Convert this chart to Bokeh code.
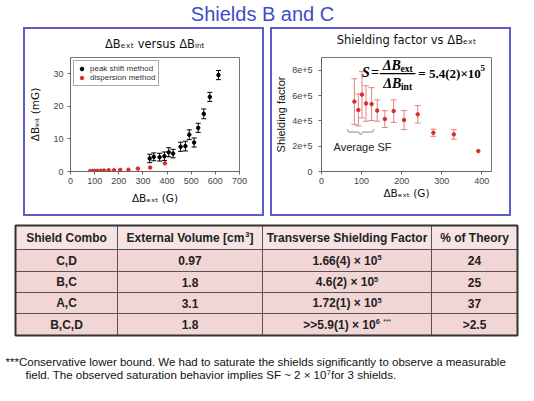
import math
from bokeh.plotting import figure
from bokeh.layouts import column, row
from bokeh.models import (Range1d, FixedTicker, Label, Whisker, LinearAxis,
                          TeeHead, ColumnDataSource, Legend, LegendItem)
from bokeh.embed import file_html
from bokeh.resources import INLINE

# ------------------------------------------------------------------ data
page_title = "Shields B and C"
left_title = "ΔBₑₓₜ versus ΔBᵢₙₜ"
left_xlabel = "ΔBₑₓₜ (G)"
left_ylabel = "ΔBᵢₙₜ (mG)"
right_title = "Shielding factor vs ΔBₑₓₜ"
right_xlabel = "ΔBₑₓₜ (G)"
right_ylabel = "Shielding factor"

peak_x   = [328, 345, 369, 389, 407, 425, 456, 476, 492, 512, 529, 552, 577, 613]
peak_y   = [4.0, 4.5, 4.4, 4.7, 5.9, 5.5, 7.6, 7.8, 11.3, 8.9, 13.4, 17.7, 22.9, 29.6]
peak_err = [1.3, 1.2, 1.2, 1.3, 1.4, 1.3, 1.4, 1.5, 1.5, 1.4, 1.4, 1.5, 1.4, 1.4]

disp_x = [82, 92, 101, 111, 125, 139, 158, 180, 206, 240, 279, 330, 391]
disp_y = [0.15, 0.19, 0.17, 0.21, 0.24, 0.29, 0.38, 0.38, 0.5, 0.53, 0.9, 1.2, 2.5]

sf_x   = [82, 92, 101, 111, 125, 139, 158, 180, 206, 240, 279, 330, 391]
sf_y   = [5.52e5, 4.86e5, 6.07e5, 5.37e5, 5.32e5, 4.81e5, 4.14e5, 4.77e5,
          4.06e5, 4.51e5, 3.06e5, 2.93e5, 1.61e5]
sf_err = [1.8e5, 1.26e5, 1.84e5, 1.4e5, 1.3e5, 0.84e5, 0.66e5, 0.89e5,
          0.75e5, 0.69e5, 0.28e5, 0.38e5, 0.0]

left_xticks  = [0, 100, 200, 300, 400, 500, 600, 700]
left_yticks  = [0, 10, 20, 30]
right_xticks = [0, 100, 200, 300, 400]
right_yticks = [0, 200000, 400000, 600000, 800000]
right_ytick_labels = ["0", "2e+5", "4e+5", "6e+5", "8e+5"]

legend_labels = ["peak shift method", "dispersion method"]

table_headers = ["Shield Combo", "External Volume [cm", "Transverse Shielding Factor", "% of Theory"]
combos      = ["C,D", "B,C", "A,C", "B,C,D"]
volumes     = ["0.97", "1.8", "3.1", "1.8"]
sf_mantissa = ["1.66(4) × 10", "4.6(2) × 10", "1.72(1) × 10", ">>5.9(1) × 10"]
sf_power    = ["5", "5", "5", "6"]
sf_note     = ["", "", "", "***"]
theory_pct  = ["24", "25", "37", ">2.5"]

footnote_1  = "***Conservative lower bound. We had to saturate the shields significantly to observe a measurable"
footnote_2a = "field. The observed saturation behavior implies SF ~ 2 × 10"
footnote_2b = "7"
footnote_2c = "  for 3 shields."

# ------------------------------------------------------------------ text metrics
def _tab(upper, lower, extra):
    t = {}
    for ch, w in zip("ABCDEFGHIJKLMNOPQRSTUVWXYZ", upper):
        t[ch] = w
    for ch, w in zip("abcdefghijklmnopqrstuvwxyz", lower):
        t[ch] = w
    for d in "0123456789":
        t[d] = 556
    t.update(extra)
    return t

ARIAL = _tab([667, 667, 722, 722, 667, 611, 778, 722, 278, 500, 667, 556, 833, 722, 778, 667, 778, 722, 667, 611, 722, 667, 944, 667, 667, 611],
             [556, 556, 500, 556, 556, 278, 556, 556, 222, 222, 500, 222, 833, 556, 556, 556, 556, 333, 500, 278, 556, 500, 722, 500, 500, 500],
             dict(zip(" ()*,.-/:;[]~%><=+×Δ", [278, 333, 333, 389, 278, 278, 333, 278, 278, 278, 278, 278, 584, 889, 584, 584, 584, 584, 584, 668])))
ARIAL_B = _tab([722, 722, 722, 722, 667, 611, 778, 722, 278, 556, 722, 611, 833, 722, 778, 667, 778, 722, 667, 611, 722, 667, 944, 667, 667, 611],
               [556, 611, 556, 611, 556, 333, 611, 611, 278, 278, 556, 278, 889, 611, 611, 611, 611, 389, 556, 333, 611, 556, 778, 556, 556, 500],
               dict(zip(" ()*,.-/:;[]~%><=+×Δ", [278, 333, 333, 389, 278, 278, 333, 278, 333, 333, 333, 333, 584, 889, 584, 584, 584, 584, 584, 668])))
TIMES_B = {"S": 556, "=": 570, "Δ": 612, "B": 667, "e": 444, "x": 500, "t": 333, "i": 278,
           "n": 556, ".": 250, "(": 333, ")": 333, "×": 570, " ": 250}
for _d in "0123456789":
    TIMES_B[_d] = 500


def tw(text, size, table):
    return sum(table.get(c, 556) for c in text) * size / 1000.0


class Mapper:
    """page pixel -> data coordinates of one figure"""
    def __init__(self, fx0, fx1, fy0, fy1, xr, yr):
        self.fx0, self.fx1, self.fy0, self.fy1 = fx0, fx1, fy0, fy1
        self.xr, self.yr = xr, yr

    def __call__(self, px, py):
        x = self.xr[0] + (px - self.fx0) / (self.fx1 - self.fx0) * (self.xr[1] - self.xr[0])
        y = self.yr[0] + (self.fy1 - py) / (self.fy1 - self.fy0) * (self.yr[1] - self.yr[0])
        return x, y


SANS = "Liberation Sans"
SERIF = "Liberation Serif"
SUBFONT = "DejaVu Sans"


def lab(p, m, px, py, text, size, color="#111111", font=SANS, style="normal",
        align="left", angle=0.0):
    """py is the wanted baseline; the label is anchored on the text's middle."""
    x, y = m(px, py - 0.35 * size)
    p.add_layout(Label(x=x, y=y, text=text, text_font=font, text_font_size=f"{size}px",
                       text_font_style=style, text_color=color, text_align=align,
                       text_baseline="alphabetic", angle=angle))


def rich(p, m, pieces, px, py, center=True, font=SANS, color="#111111", table=ARIAL):
    """pieces: (text, size, dy, style) laid out left to right"""
    total = sum(tw(t, s, table) for t, s, dy, st in pieces)
    x0 = px - total / 2.0 if center else px
    for t, s, dy, st in pieces:
        lab(p, m, x0, py + dy, t, s, color=color, font=font, style=st)
        x0 += tw(t, s, table)


def style_chart(p, xticks, yticks, ystandoff, title, title_standoff,
                xlabel, xlab_standoff, ylabel, ylab_standoff, ylab_font, ylab_size):
    p.xaxis.ticker = FixedTicker(ticks=xticks)
    p.yaxis.ticker = FixedTicker(ticks=yticks)
    for ax in p.xaxis + p.yaxis:
        ax.major_tick_out = 3
        ax.major_tick_in = 0
        ax.minor_tick_out = 0
        ax.minor_tick_in = 0
        ax.axis_line_color = "#666666"
        ax.major_tick_line_color = "#666666"
        ax.major_label_text_font = SANS
        ax.major_label_text_font_size = "9px"
        ax.major_label_text_color = "#444444"
        ax.axis_label_text_font_style = "normal"
        ax.axis_label_text_color = "#111111"
    p.xaxis.axis_label_text_font = SUBFONT
    p.xaxis.axis_label_text_font_size = "10.5px"
    p.yaxis.axis_label_text_font = ylab_font
    p.yaxis.axis_label_text_font_size = ylab_size
    p.xaxis.major_label_standoff = 3
    p.yaxis.major_label_standoff = ystandoff
    p.xaxis.axis_label = xlabel
    p.xaxis.axis_label_standoff = xlab_standoff
    p.yaxis.axis_label = ylabel
    p.yaxis.axis_label_standoff = ylab_standoff
    p.grid.visible = False
    p.outline_line_color = "#777777"
    p.outline_line_width = 1
    # chart title: label of a tick-less axis above the frame
    ta = LinearAxis(axis_label=title, ticker=FixedTicker(ticks=[]),
                    major_tick_out=0, major_tick_in=0, minor_tick_out=0, minor_tick_in=0,
                    axis_line_color=None, major_label_standoff=0,
                    axis_label_standoff=title_standoff,
                    axis_label_text_font=SUBFONT, axis_label_text_font_size="11.5px",
                    axis_label_text_font_style="normal", axis_label_text_color="#111111")
    p.add_layout(ta, "above")


BORDER = "#5a5ac9"
panel_css = {"border": f"2px solid {BORDER}", "box-sizing": "content-box"}

# ------------------------------------------------------------------ title strip (page y 0..27)
tf = figure(width=534, height=27, x_range=Range1d(0, 534), y_range=Range1d(27, 0),
            toolbar_location=None, output_backend="svg", title=None,
            x_axis_location=None, y_axis_location=None, min_border=0)
tf.grid.visible = False
tf.outline_line_color = None
mt = Mapper(0, 534, 0, 27, (0, 534), (27, 0))
lab(tf, mt, 262, 20, page_title, 20, color="#3c4ec6", align="center")

# ------------------------------------------------------------------ left chart
# box at page (23..264, 27..216); canvas starts at page (25, 29)
pl = figure(width=237, height=185, x_range=Range1d(0, 700), y_range=Range1d(0, 35),
            toolbar_location=None, output_backend="svg", title=None,
            min_border_left=45, min_border_right=27, min_border_top=23, min_border_bottom=47,
            margin=(0, 0, 0, 23), styles=panel_css)
style_chart(pl, left_xticks, left_yticks, 4, left_title, 7,
            left_xlabel, 5, left_ylabel, 9, SUBFONT, "10.5px")

peak_src = ColumnDataSource(dict(x=peak_x, y=peak_y,
                                 upper=[v + e for v, e in zip(peak_y, peak_err)],
                                 lower=[v - e for v, e in zip(peak_y, peak_err)]))
pl.add_layout(Whisker(source=peak_src, base="x", upper="upper", lower="lower",
                      line_color="black", line_width=1,
                      upper_head=TeeHead(size=5, line_color="black", line_width=1),
                      lower_head=TeeHead(size=5, line_color="black", line_width=1)))
r_peak = pl.scatter("x", "y", source=peak_src, size=3.5, color="black")
r_disp = pl.scatter(disp_x, disp_y, size=3.5, color="#e02a2a")

leg = Legend(items=[LegendItem(label=legend_labels[0], renderers=[r_peak]),
                    LegendItem(label=legend_labels[1], renderers=[r_disp])],
             location="top_left", margin=3, padding=3, spacing=0,
             label_text_font=SANS, label_text_font_size="8px", label_text_color="#333333",
             label_height=9, glyph_height=9, glyph_width=9, label_standoff=4,
             border_line_color="#555555", border_line_width=1)
pl.add_layout(leg)

# ------------------------------------------------------------------ right chart
# box at page (270..511, 27..216); canvas starts at page (272, 29)
pr = figure(width=237, height=185, x_range=Range1d(0, 424), y_range=Range1d(0, 9e5),
            toolbar_location=None, output_backend="svg", title=None,
            min_border_left=47, min_border_right=22, min_border_top=27, min_border_bottom=42,
            margin=(0, 0, 0, 6), styles=panel_css)
style_chart(pr, right_xticks, right_yticks, 6, right_title, 11,
            right_xlabel, 0, right_ylabel, 2, SANS, "11px")
pr.yaxis.major_label_overrides = {t: s for t, s in zip(right_yticks, right_ytick_labels)}
mr = Mapper(319, 491, 56, 176, (0, 424), (0, 9e5))

sf_src = ColumnDataSource(dict(x=[x for x, e in zip(sf_x, sf_err) if e > 0],
                               upper=[v + e for v, e in zip(sf_y, sf_err) if e > 0],
                               lower=[v - e for v, e in zip(sf_y, sf_err) if e > 0]))
pr.add_layout(Whisker(source=sf_src, base="x", upper="upper", lower="lower",
                      line_color="#d98585", line_width=1,
                      upper_head=TeeHead(size=6, line_color="#d98585", line_width=1),
                      lower_head=TeeHead(size=6, line_color="#d98585", line_width=1)))
pr.scatter(sf_x, sf_y, size=3.5, color="#dd2b2b")

# equation
lab(pr, mr, 360, 77, "S", 14, font=SERIF, style="bold italic", color="black")
lab(pr, mr, 369, 77, "=", 14, font=SERIF, style="bold", color="black")
rich(pr, mr, [("ΔB", 14, 0, "bold italic"), ("ext", 9.5, 2.5, "bold")], 396, 69,
     font=SERIF, color="black", table=TIMES_B)
rich(pr, mr, [("ΔB", 14, 0, "bold italic"), ("int", 9.5, 2.5, "bold")], 396, 88,
     font=SERIF, color="black", table=TIMES_B)
fx0, fy = mr(378, 73)
fx1, _ = mr(414, 73)
pr.line([fx0, fx1], [fy, fy], line_color="black", line_width=1.3)
eq_main = "= 5.4(2)×10"
lab(pr, mr, 417, 77, eq_main, 13, font=SERIF, style="bold", color="black")
lab(pr, mr, 417 + tw(eq_main, 13, TIMES_B) + 0.5, 70, "5", 9, font=SERIF,
    style="bold", color="black")

# average SF brace + label
brace_px = [345, 346.5, 356.5, 358.5, 360.5, 370.5, 372]
brace_py = [131.5, 134.5, 134.5, 137.5, 134.5, 134.5, 131.5]
bx, by = zip(*[mr(a, b) for a, b in zip(brace_px, brace_py)])
pr.line(list(bx), list(by), line_color="#888888", line_width=1)
lab(pr, mr, 360.5, 154, "Average SF", 11, color="#222222", align="center")

# ------------------------------------------------------------------ table + footnote (page y 216..401)
tb = figure(width=534, height=185, x_range=Range1d(0, 534), y_range=Range1d(401, 216),
            toolbar_location=None, output_backend="svg", title=None,
            x_axis_location=None, y_axis_location=None, min_border=0)
tb.grid.visible = False
tb.outline_line_color = None
mtb = Mapper(0, 534, 216, 401, (0, 534), (401, 216))

col_edges = [15, 117, 262, 431, 517]
row_edges = [225, 249, 271, 292, 313, 335]
tb.quad(left=[col_edges[0]], right=[col_edges[-1]], top=[row_edges[0]], bottom=[row_edges[1]],
        fill_color="#f6e4e4", line_color=None)
tb.quad(left=[col_edges[0]], right=[col_edges[-1]], top=[row_edges[1]], bottom=[row_edges[-1]],
        fill_color="#f2d5d5", line_color=None)
tb.multi_line(xs=[[c, c] for c in col_edges[1:-1]] + [[col_edges[0], col_edges[-1]] for r in row_edges[1:-1]],
              ys=[[row_edges[0], row_edges[-1]] for c in col_edges[1:-1]] + [[r, r] for r in row_edges[1:-1]],
              line_color="#555555", line_width=1)
tb.quad(left=[col_edges[0]], right=[col_edges[-1]], top=[row_edges[0]], bottom=[row_edges[-1]],
        fill_alpha=0, line_color="#333333", line_width=2)

col_c = [(a + b) / 2 for a, b in zip(col_edges[:-1], col_edges[1:])]
row_c = [(a + b) / 2 for a, b in zip(row_edges[:-1], row_edges[1:])]
TS = 12
TXT = "#222222"

for j, h in enumerate(table_headers):
    if j == 1:
        rich(tb, mtb, [(h, TS, 0, "bold"), ("3", 7.5, -4.5, "bold"), ("]", TS, 0, "bold")],
             col_c[j], row_c[0] + 4.3, color=TXT, table=ARIAL_B)
    else:
        lab(tb, mtb, col_c[j], row_c[0] + 4.3, h, TS, color=TXT, style="bold", align="center")

for i in range(len(combos)):
    yb = row_c[i + 1] + 4.3
    lab(tb, mtb, col_c[0], yb, combos[i], TS, color=TXT, style="bold", align="center")
    lab(tb, mtb, col_c[1], yb, volumes[i], TS, color=TXT, style="bold", align="center")
    pieces = [(sf_mantissa[i], TS, 0, "bold"), (sf_power[i], 7.5, -4.5, "bold")]
    if sf_note[i]:
        pieces += [(" ", TS, 0, "bold"), (sf_note[i], 6.5, -5, "normal")]
    rich(tb, mtb, pieces, col_c[2], yb, color=TXT, table=ARIAL_B)
    lab(tb, mtb, col_c[3], yb, theory_pct[i], TS, color=TXT, style="bold", align="center")

lab(tb, mtb, 5, 366, footnote_1, 11.5, color="#111111")
rich(tb, mtb, [(footnote_2a, 11.5, 0, "normal"), (footnote_2b, 8, -4.5, "normal"),
               (footnote_2c, 11.5, 0, "normal")], 25, 379, center=False, color="#111111")

layout = column(tf, row(pl, pr, spacing=0), tb, spacing=0)

with open("out.html", "w") as f:
    f.write(file_html(layout, INLINE))
